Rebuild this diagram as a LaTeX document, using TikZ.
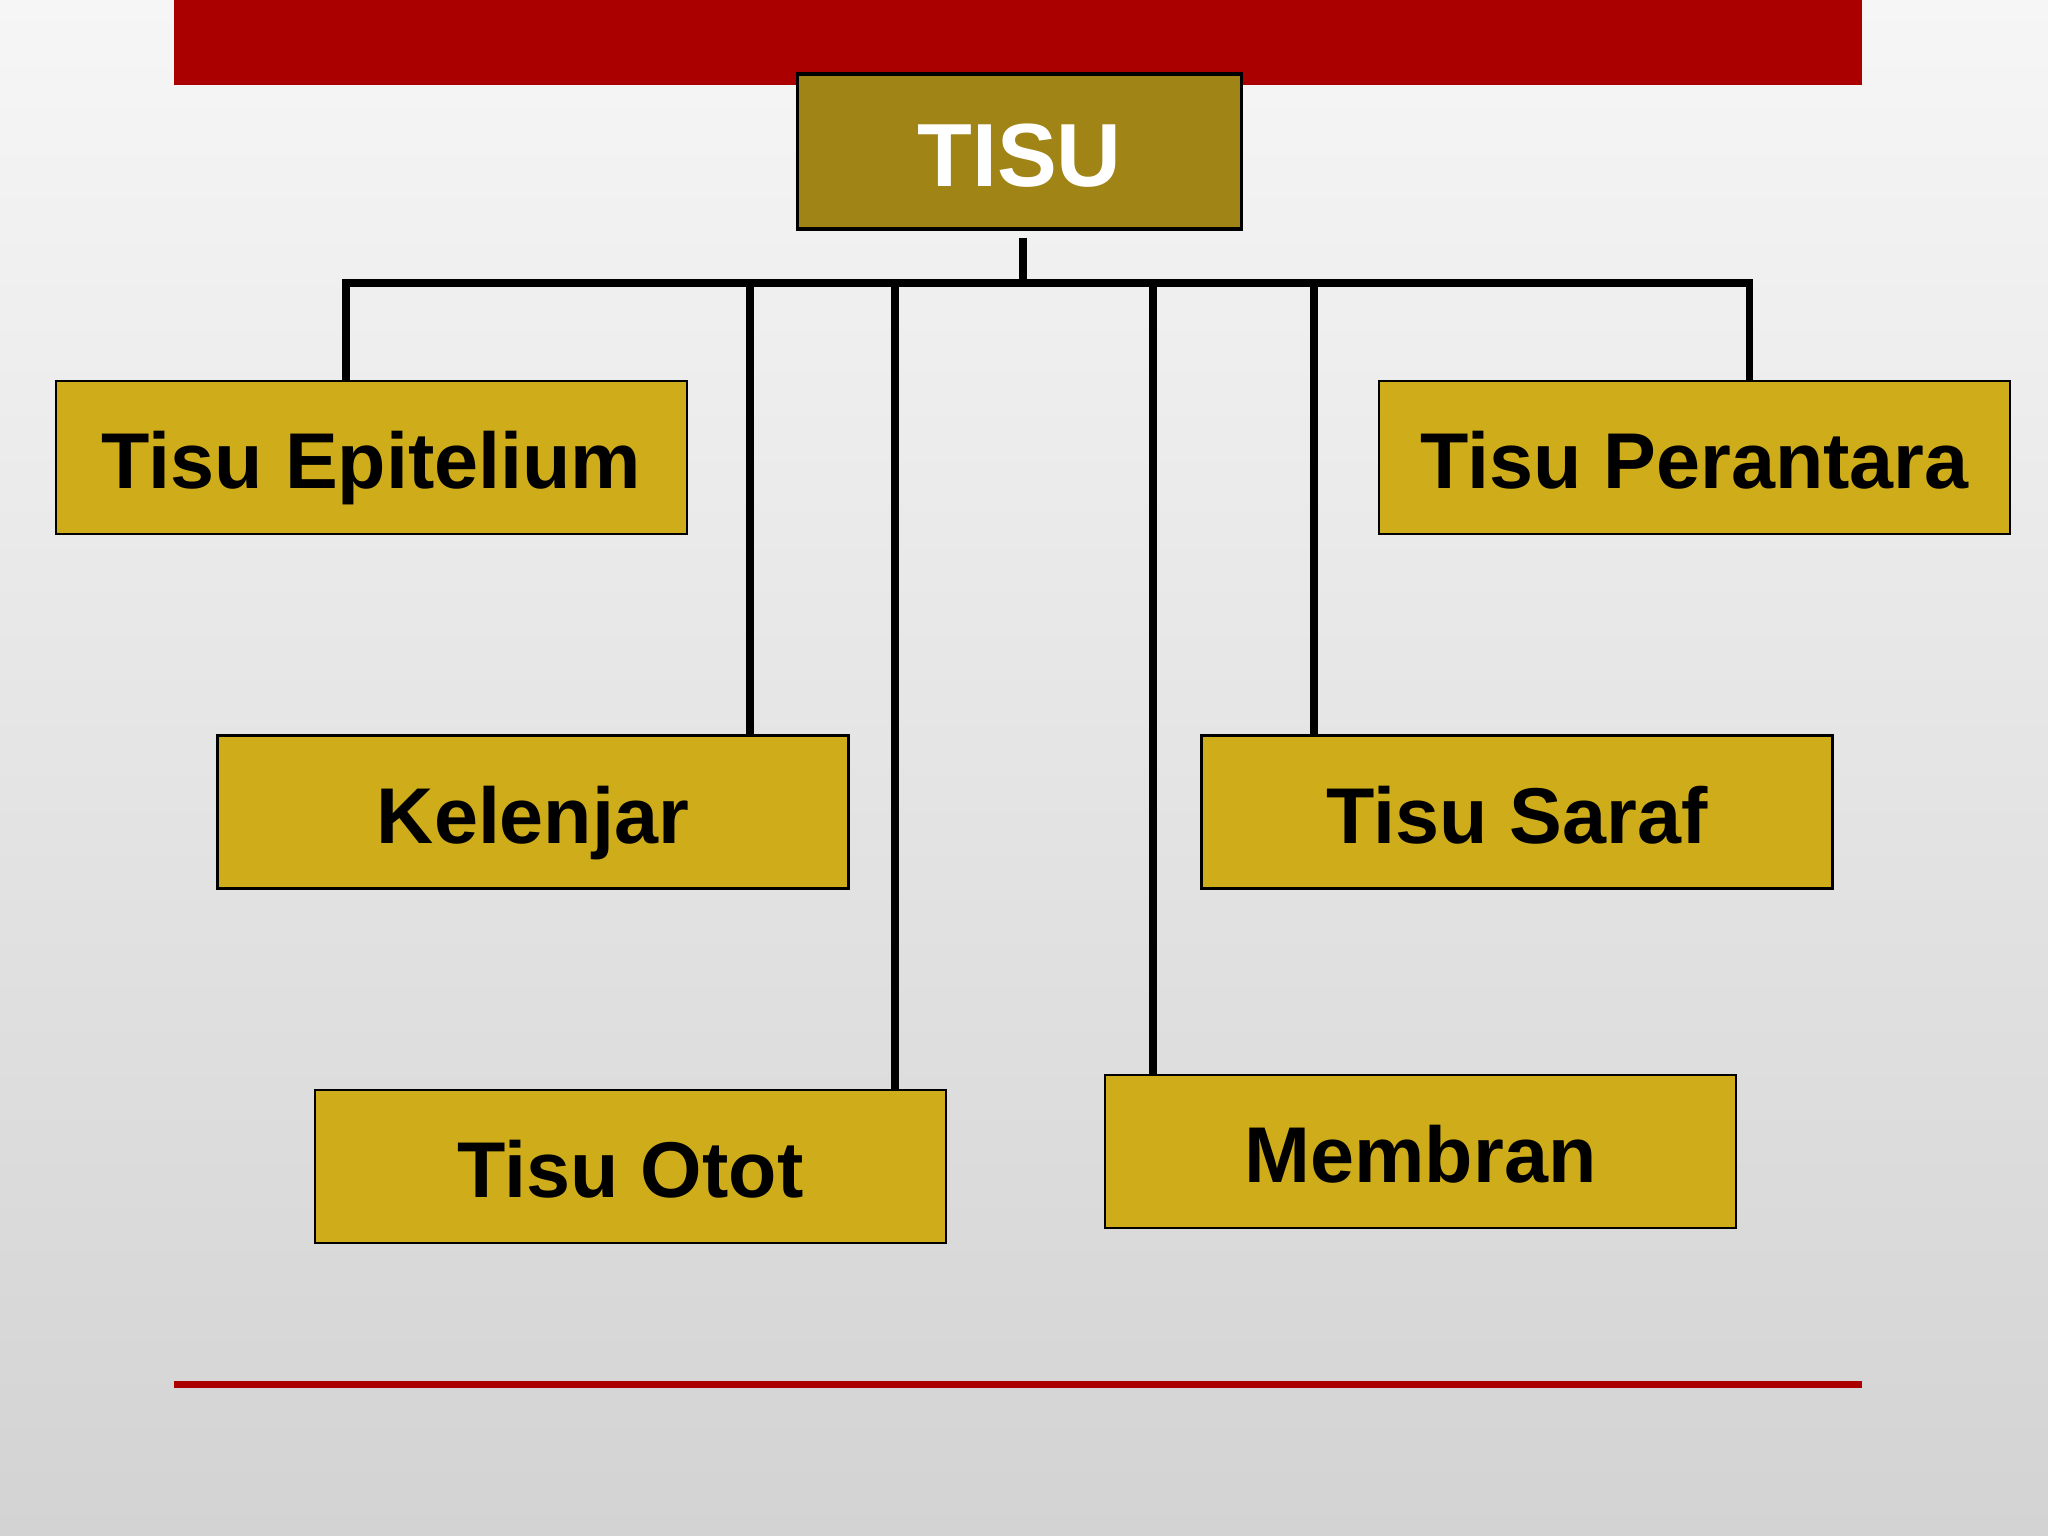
\documentclass[tikz,border=0pt]{standalone}
\usepackage{fontspec}
\setmainfont{Liberation Sans}
\usepackage{tikz}
\usetikzlibrary{positioning,calc}
\definecolor{slidered} {HTML}{AA0000}
\definecolor{rootgold} {HTML}{A08516}
\definecolor{boxgold}  {HTML}{CFAD1A}
\definecolor{ink}      {HTML}{000000}
\definecolor{papertop} {HTML}{F6F6F6}
\definecolor{paperbot} {HTML}{D3D3D3}
\tikzset{
  % --- nodes
  root/.style  = {draw=ink, line width=0.9pt, fill=rootgold, text=white,
                  minimum width=4.43cm, minimum height=1.55cm, inner sep=0pt,
                  text height=20pt, text depth=0pt,
                  font=\fontsize{25.5}{30}\selectfont\bfseries},
  tissue/.style= {draw=ink, line width=0.7pt, fill=boxgold, text=ink,
                  minimum width=6.31cm, minimum height=1.53cm, inner sep=0pt,
                  text height=17.8pt, text depth=0pt,
                  font=\fontsize{22.5}{27}\selectfont\bfseries},
  % --- edges
  link/.style  = {draw=ink, line width=2pt},
  rule/.style  = {draw=slidered, line width=2pt},
}
\begin{document}
\begin{tikzpicture}[x=0.01cm,y=-0.01cm]
  \useasboundingbox (0,0) rectangle (2048,1536);
  \fill[top color=papertop, bottom color=paperbot] (0,0) rectangle (2048,1536);
  \fill[slidered] (174,0) rectangle (1862,85);
  \coordinate (ruleL) at (174,1384);
  \coordinate (ruleR) at (1862,1384);
  \draw[rule] (ruleL) -- (ruleR);

  \node[root] (tisu) at (1019.5,151.5) {TISU};

  \node[tissue] (epi) at (371.5,457.5)  {Tisu Epitelium};
  \node[tissue] (per) at (1694.5,457.5) {Tisu Perantara};
  \node[tissue] (kel) at (533,812)      {Kelenjar};
  \node[tissue] (sar) at (1517,812)     {Tisu Saraf};
  \node[tissue] (oto) at (630.5,1166.5) {Tisu Otot};
  \node[tissue] (mem) at (1420.5,1151.5){Membran};

  % bus points
  \coordinate (stem) at (1023,283);
  \coordinate (bEpi) at (346,283);
  \coordinate (bKel) at (750,283);
  \coordinate (bOto) at (895,283);
  \coordinate (bMem) at (1153,283);
  \coordinate (bSar) at (1314,283);
  \coordinate (bPer) at (1749,283);

  \draw[link] ([yshift=-0.07cm]tisu.south -| stem) -- (stem);
  \draw[link, line cap=rect] (bEpi) -- (bPer);
  \draw[link] (bEpi) -- (bEpi |- epi.north);
  \draw[link] (bKel) -- (bKel |- kel.north);
  \draw[link] (bOto) -- (bOto |- oto.north);
  \draw[link] (bMem) -- (bMem |- mem.north);
  \draw[link] (bSar) -- (bSar |- sar.north);
  \draw[link] (bPer) -- (bPer |- per.north);
\end{tikzpicture}
\end{document}
